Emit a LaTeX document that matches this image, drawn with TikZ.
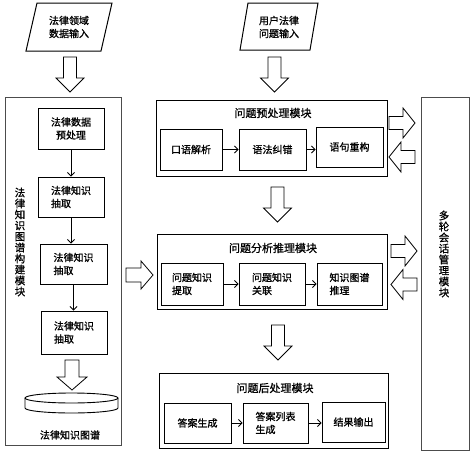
\documentclass[tikz,border=0pt]{standalone}
\usepackage{fontspec}
\setmainfont{Noto Sans CJK SC}[FakeBold=1]
\usetikzlibrary{arrows.meta,calc}
\tikzset{
  box/.style={draw=black, line width=0.9pt, minimum width=#1, inner sep=1pt, align=left, font=\fontsize{10}{13}\selectfont},
  module/.style={draw=black, line width=1pt},
  outer/.style={draw=black!70, line width=0.8pt},
  title/.style={font=\fontsize{11}{13}\selectfont, inner sep=0pt},
  vtext/.style={font=\fontsize{10.5}{11}\selectfont, align=center, inner sep=0pt},
  flow/.style={-{Straight Barb[length=3.5pt,width=7pt]}, line width=0.8pt},
  hollow/.style={draw=black, line width=0.8pt, fill=white, line join=miter},
  hdown/.pic={\draw[hollow] (-6.5,0) -- (6.5,0) -- (6.5,21) -- (14,21) -- (0,35) -- (-14,21) -- (-6.5,21) -- cycle;},
  hdownS/.pic={\draw[hollow] (-7,0) -- (7,0) -- (7,17) -- (15,17) -- (0,30) -- (-15,17) -- (-7,17) -- cycle;},
  hright/.pic={\draw[hollow] (0,-7) -- (15,-7) -- (15,-14) -- (27,0) -- (15,14) -- (15,7) -- (0,7) -- cycle;},
  hside/.pic={\draw[hollow] (0,-6.5) -- (14,-6.5) -- (14,-15) -- (26,0) -- (14,15) -- (14,6.5) -- (0,6.5) -- cycle;},
}
\begin{document}
\begin{tikzpicture}[x=1pt,y=-1pt]
\useasboundingbox (0,0) rectangle (474,455);

% input parallelograms
\draw[module] (26,51) -- (37,3) -- (112,3) -- (101,51) -- cycle;
\node[title, font=\fontsize{10}{13}\selectfont, align=center] (in1) at (69,27) {法律领域\\数据输入};
\draw[module] (240,50) -- (248,3) -- (318,3) -- (310,50) -- cycle;
\node[title, font=\fontsize{10}{13}\selectfont, align=center] (in2) at (279,27) {用户法律\\问题输入};

% left construction module
\draw[outer] (5,97) rectangle (121,445);
\node[vtext] (ltitle) at (20,242) {法\\律\\知\\识\\图\\谱\\构\\建\\模\\块};
\node[box, minimum width=66pt, minimum height=41pt, align=center] (L1) at (71,128.5) {法律数据\\预处理};
\node[box, minimum width=66pt, minimum height=40pt] (L2) at (71,197) {法律知识\\抽取};
\node[box, minimum width=67pt, minimum height=40pt] (L3) at (73.5,264) {法律知识\\抽取};
\node[box, minimum width=66pt, minimum height=43pt] (L4) at (74,332.5) {法律知识\\抽取};
\draw[flow] (L1.south) -- (L1.south |- L2.north);
\draw[flow] (L2.south) -- (L2.south |- L3.north);
\draw[flow] (L3.south) -- (L3.south |- L4.north);
% knowledge graph cylinder
\draw[module, line width=0.9pt] (25,398) -- (25,408) arc[start angle=180, end angle=0, x radius=46.5, y radius=5] -- (118,398);
\draw[module, line width=0.9pt] (71.5,398) ellipse[x radius=46.5, y radius=5];
\coordinate (kg) at (71.5,393);
\node[title, font=\fontsize{10}{13}\selectfont] (kgl) at (70,435) {法律知识图谱};

% modules
\draw[module] (156,100) rectangle (387,176);
\node[title] (t1) at (273,113) {问题预处理模块};
\node[box, minimum width=62pt, minimum height=41pt, align=center] (a1) at (191,149.5) {口语解析};
\node[box, minimum width=67pt, minimum height=41pt, align=center] (a2) at (272.5,149.5) {语法纠错};
\node[box, minimum width=67pt, minimum height=40pt, align=center] (a3) at (349.5,147) {语句重构};
\draw[flow] (a1.east) -- (a2.west);
\draw[flow] (a2.east) -- (a2.east -| a3.west);

\draw[module] (157,234) rectangle (387,309);
\node[title] (t2) at (273,248) {问题分析推理模块};
\node[box, minimum width=62pt, minimum height=42pt] (b1) at (192,284) {问题知识\\提取};
\node[box, minimum width=66pt, minimum height=42pt] (b2) at (272,284) {问题知识\\关联};
\node[box, minimum width=65pt, minimum height=42pt] (b3) at (349.5,284) {知识图谱\\推理};
\draw[flow] (b1.east) -- (b2.west);
\draw[flow] (b2.east) -- (b3.west);

\draw[module] (159,373) rectangle (388,448);
\node[title] (t3) at (275,388) {问题后处理模块};
\node[box, minimum width=67pt, minimum height=40pt, align=center] (c1) at (197.5,423) {答案生成};
\node[box, minimum width=65pt, minimum height=40pt] (c2) at (275.5,423) {答案列表\\生成};
\node[box, minimum width=63pt, minimum height=40pt, align=center] (c3) at (353.5,422) {结果输出};
\draw[flow] (c1.east) -- (c1.east -| c2.west);
\draw[flow] (c2.east) -- (c2.east -| c3.west);

% dialogue management module
\draw[outer] (421,97) rectangle (469,450);
\node[vtext] (rtitle) at (444,254) {多\\轮\\会\\话\\管\\理\\模\\块};

% hollow arrows
\pic at (70,57) {hdown};
\pic at (274.5,57) {hdown};
\pic at (277.5,187) {hdown};
\pic at (278,325) {hdown};
\pic at (72,360) {hdownS};
\pic at (126,275) {hright};
\pic at (389,123) {hside};
\pic[xscale=-1] at (415,157) {hside};
\pic at (391,251) {hside};
\pic[xscale=-1] at (417,284.5) {hside};
\end{tikzpicture}
\end{document}
